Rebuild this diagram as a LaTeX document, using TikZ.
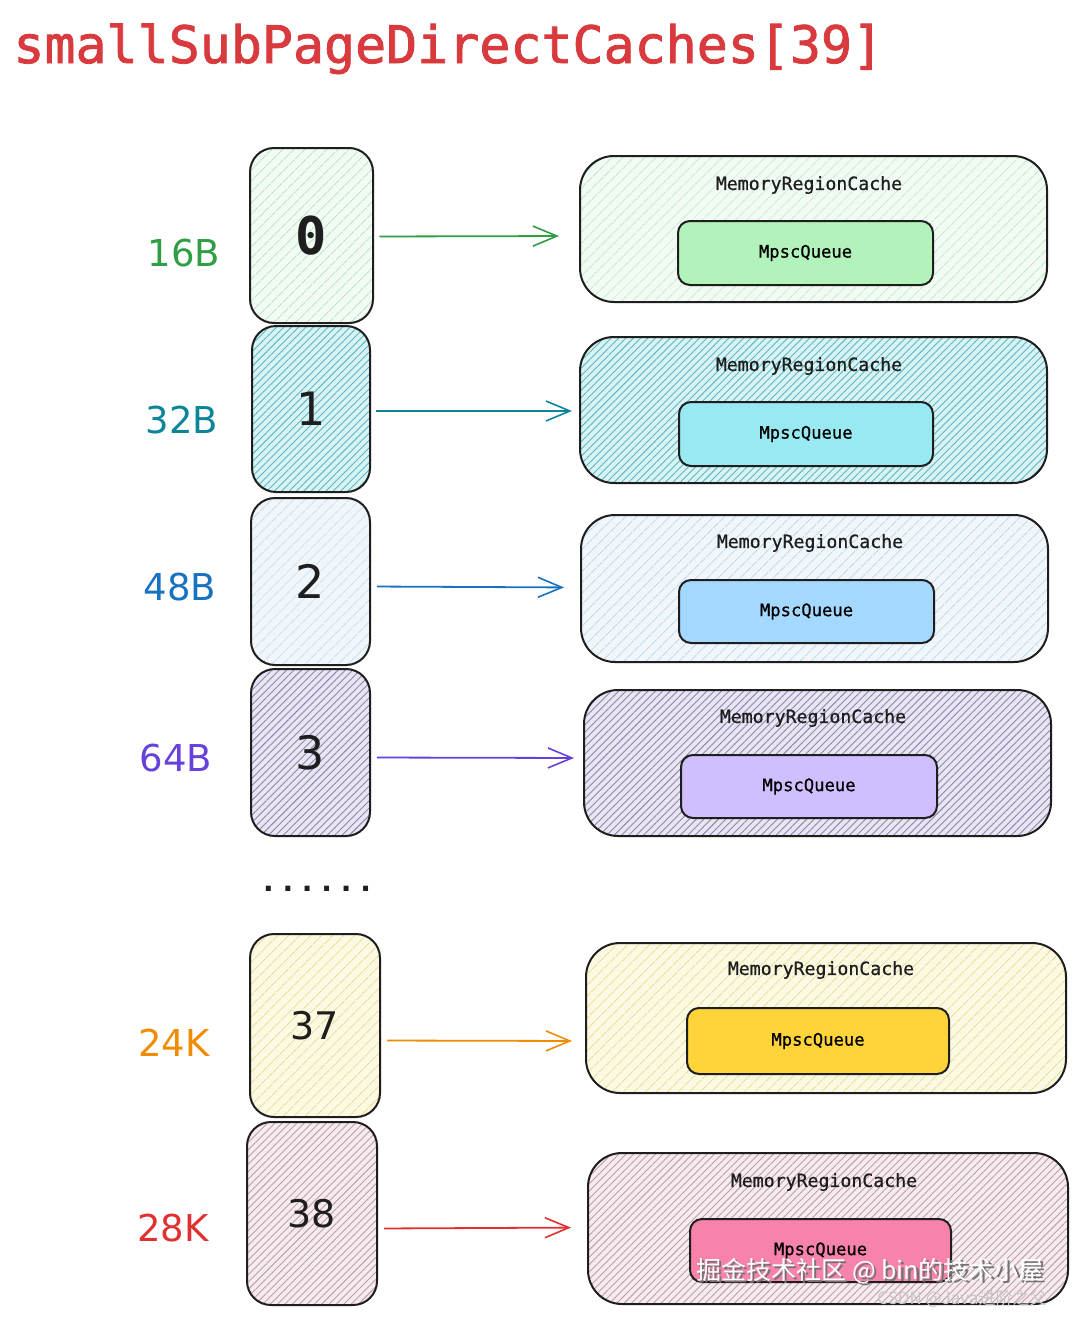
\documentclass[tikz,border=0pt]{standalone}
\usepackage{fontspec}
\setmainfont{DejaVu Sans}
\newfontfamily\monof{DejaVu Sans Mono}
\newfontfamily\monob[FakeBold=1.6]{DejaVu Sans Mono}
\newfontfamily\monom[FakeBold=0.7]{DejaVu Sans Mono}
\newfontfamily\cjkf{Noto Sans CJK SC}
\usetikzlibrary{arrows.meta,patterns.meta}
\definecolor{ink}{HTML}{1E1E1E}
\definecolor{cgreen}{HTML}{2F9E44}
\definecolor{cteal}{HTML}{0C8599}
\definecolor{cblue}{HTML}{1971C2}
\definecolor{cpurple}{HTML}{6741D9}
\definecolor{corange}{HTML}{F08C00}
\definecolor{cred}{HTML}{E03131}
\definecolor{ctitle}{HTML}{D93A3E}
% fills
\definecolor{bgG}{HTML}{F1FAF3}\definecolor{lnG}{HTML}{B9E6C1}\definecolor{inG}{HTML}{B2F2BB}
\definecolor{bgC}{HTML}{D9F3F5}\definecolor{lnC}{HTML}{5BB8BF}\definecolor{inC}{HTML}{99E9F2}
\definecolor{bgB}{HTML}{F1F6FA}\definecolor{lnB}{HTML}{BCD9EE}\definecolor{inB}{HTML}{A5D8FF}
\definecolor{bgP}{HTML}{E9E5F5}\definecolor{lnP}{HTML}{8C86A8}\definecolor{inP}{HTML}{D0BFFF}
\definecolor{bgY}{HTML}{FBF9E2}\definecolor{lnY}{HTML}{E6DE98}\definecolor{inY}{HTML}{FFD43B}
\definecolor{bgR}{HTML}{F8EBEF}\definecolor{lnR}{HTML}{B9A0A8}\definecolor{inR}{HTML}{F783AC}
\tikzset{
  hatch/.style n args={3}{preaction={fill=#1},
     pattern={Lines[angle=45,distance=#3,line width=0.45pt]}, pattern color=#2},
  ibox/.style={draw=ink, line width=1pt, rounded corners=12pt, inner sep=0pt},
  obox/.style={draw=ink, line width=1pt, rounded corners=17pt, inner sep=0pt},
  qbox/.style={draw=ink, line width=1pt, rounded corners=6pt, inner sep=0pt,
     font=\monom\fontsize{8.6pt}{10pt}\selectfont},
  cachetitle/.style={font=\monom\fontsize{9.1pt}{11pt}\selectfont, text=ink, inner sep=0pt},
  sizelbl/.style={font=\fontsize{18.5pt}{22pt}\selectfont, inner sep=0pt},
  idx/.style={font=\fontsize{23pt}{27pt}\selectfont, text=ink},
  link/.style={line width=0.9pt, -{Straight Barb[length=12pt,width=10pt,line width=0.8pt]},
     shorten <=3pt},
}
\begin{document}
\begin{tikzpicture}[x=0.5pt,y=-0.5pt]
\useasboundingbox[fill=white] (0,0) rectangle (1080,1317);

\node[anchor=base west, inner sep=0pt, text=ctitle,
  font=\monob\fontsize{25.8pt}{30pt}\selectfont] (title) at (13,63) {smallSubPageDirectCaches[39]};

% ---- index boxes
\node[ibox, hatch={bgG}{lnG}{4pt}, minimum width=61.5pt, minimum height=87.5pt] (b0) at (311.5,235.5) {};
\node[idx, font=\monof\bfseries\fontsize{26pt}{30pt}\selectfont] (t0) at (b0) {0};
\node[ibox, hatch={bgC}{lnC}{2.6pt}, minimum width=59pt, minimum height=83pt] (b1) at (311,409) {};
\node[idx] (t1) at (b1) {1};
\node[ibox, hatch={bgB}{lnB}{4pt}, minimum width=59.5pt, minimum height=83.5pt] (b2) at (310.5,581.5) {};
\node[idx] (t2) at (b2) {2};
\node[ibox, hatch={bgP}{lnP}{2.6pt}, minimum width=59.5pt, minimum height=83.5pt] (b3) at (310.5,752.5) {};
\node[idx] (t3) at (b3) {3};
\node[ibox, hatch={bgY}{lnY}{4pt}, minimum width=65pt, minimum height=91.5pt] (b37) at (315,1025.5) {};
\node[idx, font=\fontsize{19pt}{23pt}\selectfont] (t37) at (b37) {37};
\node[ibox, hatch={bgR}{lnR}{2.6pt}, minimum width=65pt, minimum height=91.5pt] (b38) at (312,1213.5) {};
\node[idx, font=\fontsize{19pt}{23pt}\selectfont] (t38) at (b38) {38};

% ---- size labels
\node[sizelbl, text=cgreen] (l0) at (184,253) {16B};
\node[sizelbl, text=cteal] (l1) at (182,420) {32B};
\node[sizelbl, text=cblue] (l2) at (180,587) {48B};
\node[sizelbl, text=cpurple] (l3) at (176,758) {64B};
\node[sizelbl, text=corange] (l37) at (174,1043) {24K};
\node[sizelbl, text=cred] (l38) at (173,1228) {28K};

\node[font=\bfseries\fontsize{14pt}{16pt}\selectfont, text=ink, inner sep=0pt] (dots) at (317,889) {.\hspace{4.4pt}.\hspace{4.4pt}.\hspace{4.4pt}.\hspace{4.4pt}.\hspace{4.4pt}.};

% ---- cache boxes
\node[obox, hatch={bgG}{lnG}{4pt}, minimum width=233.5pt, minimum height=73pt] (r0) at (813.5,229) {};
\node[cachetitle] (c0) at (809,185) {MemoryRegionCache};
\node[qbox, fill=inG, minimum width=127.5pt, minimum height=32pt] (q0) at (805.5,253) {MpscQueue};

\node[obox, hatch={bgC}{lnC}{2.6pt}, minimum width=233.5pt, minimum height=73pt] (r1) at (813.5,410) {};
\node[cachetitle] (c1) at (809,366) {MemoryRegionCache};
\node[qbox, fill=inC, minimum width=127pt, minimum height=32pt] (q1) at (806,434) {MpscQueue};

\node[obox, hatch={bgB}{lnB}{4pt}, minimum width=233.5pt, minimum height=73.5pt] (r2) at (814.5,588.5) {};
\node[cachetitle] (c2) at (810,543) {MemoryRegionCache};
\node[qbox, fill=inB, minimum width=127.5pt, minimum height=31.5pt] (q2) at (806.5,611.5) {MpscQueue};

\node[obox, hatch={bgP}{lnP}{2.6pt}, minimum width=233.5pt, minimum height=73pt] (r3) at (817.5,763) {};
\node[cachetitle] (c3) at (813,718) {MemoryRegionCache};
\node[qbox, fill=inP, minimum width=128pt, minimum height=31.5pt] (q3) at (809,786.5) {MpscQueue};

\node[obox, hatch={bgY}{lnY}{4pt}, minimum width=240pt, minimum height=75pt] (r37) at (826,1018) {};
\node[cachetitle] (c37) at (821,970) {MemoryRegionCache};
\node[qbox, fill=inY, minimum width=131pt, minimum height=33pt] (q37) at (818,1041) {MpscQueue};

\node[obox, hatch={bgR}{lnR}{2.6pt}, minimum width=240pt, minimum height=75.5pt] (r38) at (828,1228.5) {};
\node[cachetitle] (c38) at (824,1182) {MemoryRegionCache};
\node[qbox, fill=inR, minimum width=130.5pt, minimum height=31.5pt] (q38) at (820.5,1250.5) {MpscQueue};

% ---- arrows
\draw[link, cgreen, shorten >=10pt] ([yshift=-0.5pt]b0.east) -- ([yshift=-3.5pt]r0.west);
\draw[link, cteal, shorten >=3.5pt] ([yshift=-1pt]b1.east) -- ([yshift=-0.5pt]r1.west);
\draw[link, cblue, shorten >=8pt] ([yshift=-2.5pt]b2.east) -- ([yshift=0.5pt]r2.west);
\draw[link, cpurple, shorten >=4.5pt] ([yshift=-2.5pt]b3.east) -- ([yshift=2.5pt]r3.west);
\draw[link, corange, shorten >=6.5pt] ([yshift=-7.5pt]b37.east) -- ([yshift=-11.5pt]r37.west);
\draw[link, cred, shorten >=8pt] ([yshift=-7.5pt]b38.east) -- ([yshift=0.5pt]r38.west);

% ---- watermark
\node[anchor=west, inner sep=0pt, text=black!55, font=\cjkf\fontsize{12.5pt}{14pt}\selectfont] (wm0s) at (698.5,1273) {掘金技术社区 @ bin的技术小屋};
\node[anchor=west, inner sep=0pt, text=white, font=\cjkf\fontsize{12.5pt}{14pt}\selectfont] (wm0) at (696,1271) {掘金技术社区 @ bin的技术小屋};
\node[anchor=west, inner sep=0pt, text=black!22, font=\cjkf\fontsize{8.5pt}{10pt}\selectfont] (wm1) at (877,1299) {CSDN @Java进阶之父};
\end{tikzpicture}
\end{document}
